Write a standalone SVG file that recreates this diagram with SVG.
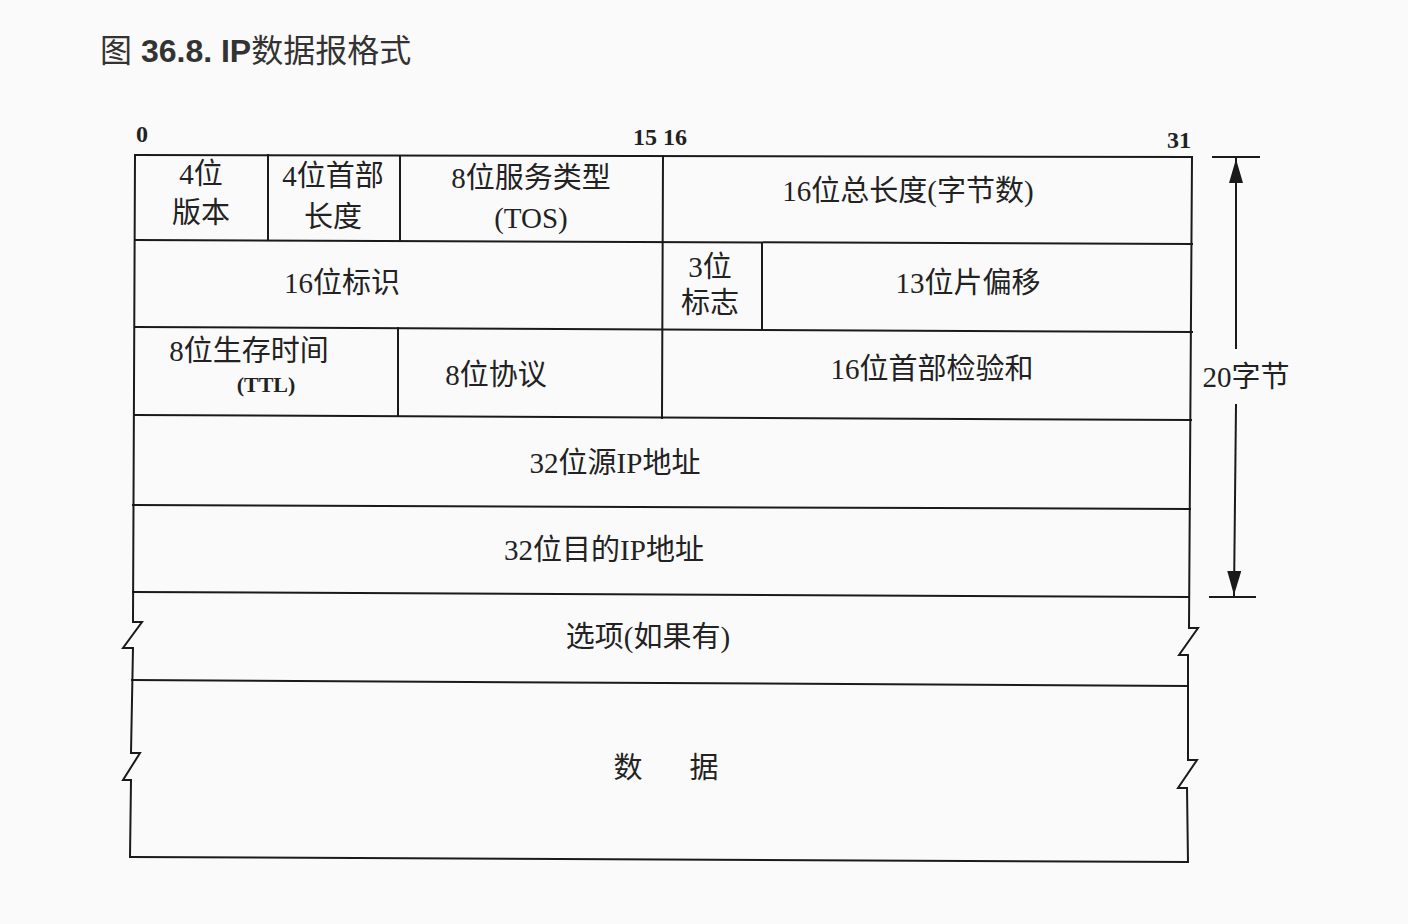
<svg xmlns="http://www.w3.org/2000/svg" width="1408" height="924" viewBox="0 0 1408 924">
<defs>
<style>
.ln{stroke:#1a1a1a;stroke-width:2;fill:none;stroke-linecap:square}
.t{font-family:"Liberation Serif","Noto Sans CJK SC",serif;font-size:29px;fill:#222;text-anchor:middle}
.n{font-family:"Liberation Serif",serif;font-size:24px;font-weight:bold;fill:#222}
.title{font-family:"Liberation Sans","Noto Sans CJK SC",sans-serif;font-size:32px;fill:#333}
</style>
<marker id="ah" viewBox="0 0 24 14" refX="24" refY="7" markerWidth="24" markerHeight="14" markerUnits="userSpaceOnUse" orient="auto-start-reverse">
<path d="M24 7 L0 0 L0 14 Z" fill="#1a1a1a"/>
</marker>
</defs>
<rect width="1408" height="924" fill="#fafafa"/>
<text id="title" class="title" x="100" y="62">图 <tspan font-weight="bold">36.8. IP</tspan>数据报格式</text>
<g id="bit-labels">
<text class="n" x="136" y="142">0</text>
<text class="n" x="633" y="145">15 16</text>
<text class="n" x="1167" y="148">31</text>
</g>
<g id="frame">
<line class="ln" x1="135" y1="155" x2="1192" y2="157"/>
<line class="ln" x1="135" y1="240" x2="1192" y2="244"/>
<line class="ln" x1="135" y1="327" x2="1192" y2="332"/>
<line class="ln" x1="134" y1="415" x2="1191" y2="420"/>
<line class="ln" x1="133" y1="505" x2="1190" y2="509"/>
<line class="ln" x1="133" y1="592" x2="1189" y2="597"/>
<line class="ln" x1="132" y1="680" x2="1188" y2="686"/>
<line class="ln" x1="130" y1="857" x2="1188" y2="862"/>
<path class="ln" d="M135 155 L133 622 L142 622 L123 648 L133 648 L131 753 L140 753 L123 780 L131 780 L130 857"/>
<path class="ln" d="M1192 157 L1189 628 L1198 628 L1179 655 L1188 655 L1188 760 L1197 760 L1178 788 L1187 788 L1188 862"/>
<line class="ln" x1="268" y1="155" x2="268" y2="240"/>
<line class="ln" x1="400" y1="156" x2="400" y2="241"/>
<line class="ln" x1="663" y1="156" x2="662" y2="418"/>
<line class="ln" x1="762" y1="243" x2="762" y2="330"/>
<line class="ln" x1="398" y1="328" x2="398" y2="416"/>
</g>
<g id="version"><text class="t" x="201" y="184">4位</text><text class="t" x="201" y="223">版本</text></g>
<g id="ihl"><text class="t" x="333" y="186">4位首部</text><text class="t" x="333" y="227">长度</text></g>
<g id="tos"><text class="t" x="531" y="188">8位服务类型</text><text class="t" x="531" y="228">(TOS)</text></g>
<g id="total-length"><text class="t" x="908" y="201">16位总长度(字节数)</text></g>
<g id="identification"><text class="t" x="342" y="293">16位标识</text></g>
<g id="flags"><text class="t" x="710" y="277">3位</text><text class="t" x="710" y="313">标志</text></g>
<g id="fragment-offset"><text class="t" x="968" y="293">13位片偏移</text></g>
<g id="ttl"><text class="t" x="249" y="361">8位生存时间</text><text class="t" x="266" y="392" style="font-size:22px;font-weight:bold">(TTL)</text></g>
<g id="protocol"><text class="t" x="496" y="385">8位协议</text></g>
<g id="checksum"><text class="t" x="932" y="379">16位首部检验和</text></g>
<g id="src"><text class="t" x="615" y="473">32位源IP地址</text></g>
<g id="dst"><text class="t" x="604" y="560">32位目的IP地址</text></g>
<g id="options"><text class="t" x="648" y="647">选项(如果有)</text></g>
<g id="data"><text class="t" x="628" y="778">数</text><text class="t" x="704" y="778">据</text></g>
<g id="connectors">
<line class="ln" x1="1213" y1="157" x2="1259" y2="157"/>
<line class="ln" x1="1210" y1="597" x2="1255" y2="597"/>
<line class="ln" x1="1236" y1="159" x2="1236" y2="348" marker-start="url(#ah)"/>
<line class="ln" x1="1236" y1="405" x2="1234" y2="595" marker-end="url(#ah)"/>
</g>
<g id="size-label"><text class="t" x="1246" y="387">20字节</text></g>
</svg>
